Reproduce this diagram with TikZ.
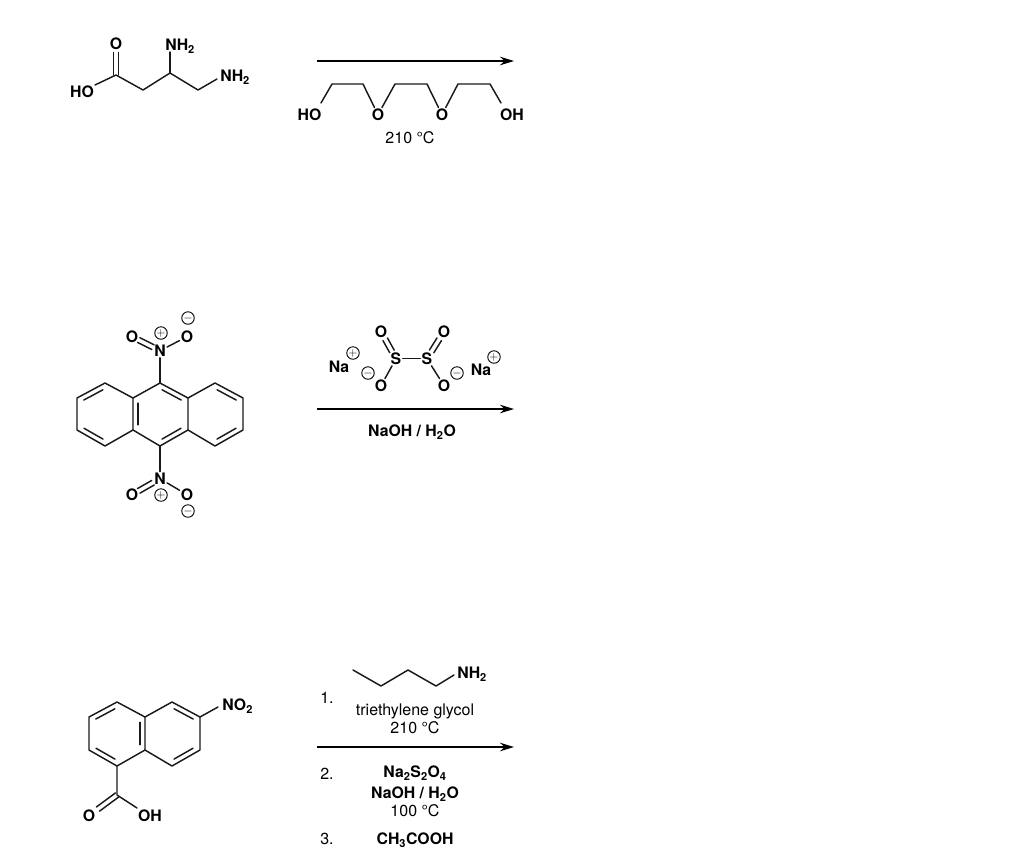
\documentclass[tikz,border=0pt]{standalone}
\usepackage{fontspec}
\setmainfont{TeX Gyre Heros}
\usetikzlibrary{calc,arrows.meta}
\tikzset{
  bond/.style={line width=1.45pt,line cap=round,line join=round,draw=black!90},
  lab/.style={inner sep=1.2pt,yshift=-0.7pt,text height=11.5pt,text depth=0pt,font=\fontsize{15.8}{16}\selectfont\bfseries},
  plain/.style={inner sep=1pt,yshift=-0.7pt,text height=11.5pt,text depth=0pt,font=\fontsize{16}{16}\selectfont},
  charge/.style={circle,draw,line width=0.9pt,inner sep=0pt,minimum size=12.5pt,font=\fontsize{13}{13}\selectfont},
  rxn/.style={line width=1.9pt,-{Stealth[length=14pt,width=8.5pt]}}
}
% inner ring line: offset to the left of a->b as seen on the page
\newcommand{\innerbond}[2]{\draw[bond] ($(#1)!.16!(#2)!5pt!90:(#2)$) -- ($(#1)!.84!(#2)!5pt!90:(#2)$);}
% double bond between two atoms: two parallel strokes from fraction #3 to fraction #4
\newcommand{\twobond}[4]{%
  \draw[bond] ($(#1)!#3!(#2)!2.6pt!90:(#2)$) -- ($(#1)!#4!(#2)!2.6pt!90:(#2)$);
  \draw[bond] ($(#1)!#3!(#2)!-2.6pt!90:(#2)$) -- ($(#1)!#4!(#2)!-2.6pt!90:(#2)$);}
\begin{document}
\begin{tikzpicture}[x=1pt,y=-1pt]
\useasboundingbox (0,0) rectangle (1024,860);
\fill[white] (0,0) rectangle (1024,860);

% ---------- molecule 1 ----------
\coordinate (m1a) at (116,75);
\coordinate (m1b) at (143,90);
\coordinate (m1c) at (170,73);
\coordinate (m1d) at (198,90);
\node[lab] (m1o) at (116,43) {O};
\node[lab] (m1ho) at (82,91) {HO};
\node[lab,anchor=west] (m1n1) at (164,44) {NH\textsubscript{2}};
\node[lab,anchor=west] (m1n2) at (219,75) {NH\textsubscript{2}};
\coordinate (m1n1b) at (170,52);
\coordinate (m1n2b) at (217,79);
\coordinate (m1hob) at (95,85);
\draw[bond] (m1hob) -- (m1a) -- (m1b) -- (m1c) -- (m1d) -- (m1n2b);
\draw[bond] (m1c) -- (m1n1b);
\twobond{m1a}{m1o}{0}{.72}

% ---------- arrow 1 and glycol ----------
\coordinate (a1s) at (317,61);
\coordinate (a1e) at (514,61);
\draw[rxn] (a1s) -- (a1e);
\node[lab] (g1) at (309.5,114) {HO};
\node[lab] (g2) at (378,114) {O};
\node[lab] (g3) at (442,114) {O};
\node[lab] (g4) at (512,114) {OH};
\coordinate (g1e) at (321,103);
\coordinate (g4e) at (501,103);
\coordinate (g1a) at (332,84);
\coordinate (g1b) at (363,84);
\coordinate (g2a) at (395,84);
\coordinate (g2b) at (427,84);
\coordinate (g3a) at (458,84);
\coordinate (g3b) at (490,84);
\draw[bond] (g1e) -- (g1a) -- (g1b) -- (g2) -- (g2a) -- (g2b) -- (g3) -- (g3a) -- (g3b) -- (g4e);
\node[plain] (t210a) at (410,137) {210 °C};

% ---------- molecule 2 ----------
\coordinate (r1) at (160,383);
\coordinate (r2) at (133,398);
\coordinate (r3) at (133,430);
\coordinate (r4) at (160,446);
\coordinate (r5) at (188,430);
\coordinate (r6) at (188,398);
\coordinate (l1) at (105,383);
\coordinate (l2) at (77,398);
\coordinate (l3) at (77,430);
\coordinate (l4) at (105,446);
\coordinate (q1) at (215,383);
\coordinate (q2) at (243,398);
\coordinate (q3) at (243,430);
\coordinate (q4) at (215,446);
\draw[bond] (r1) -- (r2) -- (l1) -- (l2) -- (l3) -- (l4) -- (r3) -- (r2);
\draw[bond] (r3) -- (r4) -- (r5) -- (r6) -- (r1);
\draw[bond] (r6) -- (q1) -- (q2) -- (q3) -- (q4) -- (r5);
\innerbond{l1}{l2}
\innerbond{l3}{l4}
\innerbond{r2}{r3}
\innerbond{r6}{r1}
\innerbond{r4}{r5}
\innerbond{q2}{q1}
\innerbond{q4}{q3}
\node[lab] (nt) at (160,350) {N};
\node[lab] (ntl) at (132,336) {O};
\node[lab] (ntr) at (187,336) {O};
\node[charge] (ntp) at (161,333) {$+$};
\node[charge] (ntm) at (188,318) {$-$};
\draw[bond] (r1) -- (nt);
\draw[bond] (nt) -- (ntr);
\twobond{nt}{ntl}{.25}{.76}
\node[lab] (nb) at (160,478) {N};
\node[lab] (nbl) at (132,494) {O};
\node[lab] (nbr) at (187,494) {O};
\node[charge] (nbp) at (161,495) {$+$};
\node[charge] (nbm) at (188,511) {$-$};
\draw[bond] (r4) -- (nb);
\draw[bond] (nb) -- (nbr);
\twobond{nb}{nbl}{.25}{.76}

% ---------- dithionite ----------
\node[lab] (s1) at (396,358) {S};
\node[lab] (s2) at (427,358) {S};
\node[lab] (o1) at (381,331) {O};
\node[lab] (o2) at (444,331) {O};
\node[lab] (o3) at (381,385) {O};
\node[lab] (o4) at (444,385) {O};
\draw[bond] (s1) -- (s2);
\draw[bond] (s1) -- (o3);
\draw[bond] (s2) -- (o4);
\twobond{s1}{o1}{.27}{.72}
\twobond{s2}{o2}{.27}{.72}
\node[lab] (na1) at (339,366) {Na};
\node[lab] (na2) at (481,369) {Na};
\node[charge] (nap1) at (353,353) {$+$};
\node[charge] (nap2) at (494,357) {$+$};
\node[charge] (om1) at (368,373) {$-$};
\node[charge] (om2) at (457,373) {$-$};
\coordinate (a2s) at (317,409);
\coordinate (a2e) at (514,409);
\draw[rxn] (a2s) -- (a2e);
\node[lab] (naoha) at (412,430) {NaOH / H\textsubscript{2}O};

% ---------- molecule 3 ----------
\coordinate (n1) at (117,702);
\coordinate (n2) at (89,717);
\coordinate (n3) at (89,750);
\coordinate (n4) at (117,766);
\coordinate (n5) at (145,750);
\coordinate (n6) at (145,717);
\coordinate (n7) at (172,702);
\coordinate (n8) at (200,717);
\coordinate (n9) at (200,750);
\coordinate (n10) at (172,766);
\draw[bond] (n1) -- (n2) -- (n3) -- (n4) -- (n5) -- (n6) -- (n1);
\draw[bond] (n6) -- (n7) -- (n8) -- (n9) -- (n10) -- (n5);
\innerbond{n1}{n2}
\innerbond{n3}{n4}
\innerbond{n5}{n6}
\innerbond{n8}{n7}
\innerbond{n10}{n9}
\node[lab,anchor=west] (no2) at (221,704) {NO\textsubscript{2}};
\coordinate (no2b) at (218,707);
\draw[bond] (n8) -- (no2b);
\coordinate (cc) at (117,795);
\node[lab] (co) at (89,815) {O};
\node[lab] (coh) at (150,815) {OH};
\coordinate (cohb) at (137,808);
\draw[bond] (n4) -- (cc) -- (cohb);
\twobond{cc}{co}{0}{.68}

% ---------- reagents 3 ----------
\coordinate (b1) at (353,670);
\coordinate (b2) at (381,686);
\coordinate (b3) at (408,670);
\coordinate (b4) at (436,686);
\coordinate (b5) at (454,675);
\draw[bond] (b1) -- (b2) -- (b3) -- (b4) -- (b5);
\node[lab,anchor=west] (bn) at (456,672) {NH\textsubscript{2}};
\node[plain] (s1n) at (327,697) {1.};
\node[plain] (teg) at (415,709) {triethylene glycol};
\node[plain] (t210b) at (415,727) {210 °C};
\coordinate (a3s) at (317,747);
\coordinate (a3e) at (514,747);
\draw[rxn] (a3s) -- (a3e);
\node[plain] (s2n) at (327,773) {2.};
\node[lab] (dith) at (415,771) {Na\textsubscript{2}S\textsubscript{2}O\textsubscript{4}};
\node[lab] (naohb) at (415,792) {NaOH / H\textsubscript{2}O};
\node[plain] (t100) at (415,810) {100 °C};
\node[plain] (s3n) at (327,838) {3.};
\node[lab] (acoh) at (415,838) {CH\textsubscript{3}COOH};
\end{tikzpicture}
\end{document}
